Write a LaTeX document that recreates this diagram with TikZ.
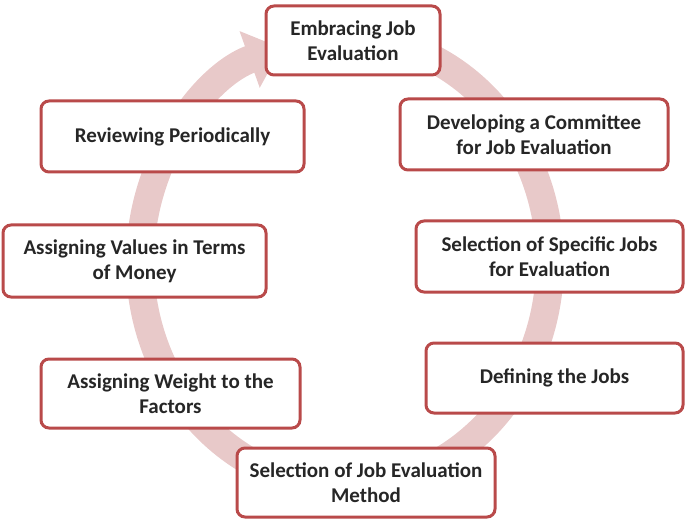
\documentclass[tikz,border=0pt]{standalone}
\usepackage{fontspec}
\setmainfont{Carlito}
\usetikzlibrary{arrows.meta}
\definecolor{bord}{HTML}{B94A4A}
\definecolor{ring}{HTML}{E8C9C9}
\begin{document}
\begin{tikzpicture}[x=1pt,y=1pt,
  box/.style={draw=bord,line width=3pt,rounded corners=8pt,fill=white,align=center,
    font=\fontsize{21}{25}\selectfont\bfseries,text=black!85,inner sep=0pt}]
\useasboundingbox (0,0) rectangle (685,520);
\draw[ring,line width=28pt,-{Triangle[width=58pt,length=34pt]}]
  (345,258) ++(80:205 and 225) arc[start angle=80,end angle=-252,x radius=205,y radius=225];
\newcommand{\bx}[6]{\node[box,minimum width=#4-#2,minimum height=#5-#3] (#1) at ({(#2+#4)/2},{520-(#3+#5)/2}) {#6};}
\bx{a}{266}{6}{440}{75}{Embracing Job\\Evaluation}
\bx{b}{400}{99}{668}{170}{Developing a Committee\\for Job Evaluation}
\bx{c}{416}{221}{683}{292}{Selection of Specific Jobs\\for Evaluation}
\bx{d}{426}{343}{683}{413}{Defining the Jobs}
\bx{e}{237}{448}{495}{517}{Selection of Job Evaluation\\Method}
\bx{f}{41}{359}{300}{428}{Assigning Weight to the\\Factors}
\bx{g}{3}{225}{266}{297}{Assigning Values in Terms\\of Money}
\bx{h}{41}{101}{304}{172}{Reviewing Periodically}
\end{tikzpicture}
\end{document}
